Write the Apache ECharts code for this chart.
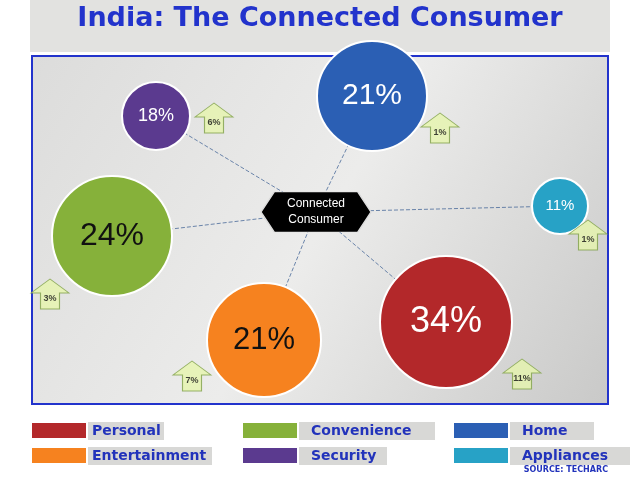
<!DOCTYPE html>
<html>
<head>
<meta charset="utf-8">
<script src="https://cdn.jsdelivr.net/npm/echarts@6/dist/echarts.min.js"></script>
<style>html,body{margin:0;padding:0;background:#fff}#main{width:640px;height:480px}</style>
</head>
<body>
<div id="main"></div>
<script>
// segments
var segNames = ['Security', 'Home', 'Appliances', 'Convenience', 'Entertainment', 'Personal'];
var segShare = [18, 21, 11, 24, 21, 34];
var segGrowth = [6, 1, 1, 3, 7, 11];
var segColors = ['#5b3a8f', '#2b5fb4', '#27a2c6', '#86b13a', '#f6821f', '#b3282a'];
// layout (picture coordinates)
var segX = [156, 372, 560, 112, 264, 446];
var segY = [116, 96, 206, 236, 340, 322];
var segSize = [68, 110, 56, 120, 114, 132];
var arrowX = [214, 440, 588, 50, 192, 522];
var arrowY = [118, 128, 235, 294, 376, 374];
var centerPos = [316, 212];
var legendRows = [['Personal', 'Convenience', 'Home'], ['Entertainment', 'Security', 'Appliances']];
var legendBoxW = {Personal: 76, Convenience: 128, Home: 76, Entertainment: 124, Security: 80, Appliances: 112};

var chart = echarts.init(document.getElementById('main'));
var nodes = [{
  name: 'Connected\nConsumer', value: centerPos,
  symbol: 'path://M0,20 L12,0 L88,0 L100,20 L88,40 L12,40 Z', symbolSize: [110, 40],
  itemStyle: {color: '#000', borderColor: '#ddd', borderWidth: 1},
  label: {show: true, color: '#fff', fontSize: 12, lineHeight: 16, formatter: '{b}'}
}];
var links = [];
segNames.forEach(function(n, i) {
  nodes.push({
    name: n, value: [segX[i], segY[i]], symbolSize: segSize[i],
    itemStyle: {color: segColors[i], borderColor: '#fff', borderWidth: 2},
    label: {show: true, color: (i === 3 || i === 4) ? '#111' : '#fff',
      fontSize: Math.round(segSize[i] * 0.27), formatter: segShare[i] + '%'}
  });
  links.push({source: 0, target: i + 1});
});
var arrows = segGrowth.map(function(g, i) { return [arrowX[i], arrowY[i], g]; });

var legendGraphics = [];
legendRows.forEach(function(row, r) {
  row.forEach(function(name, c) {
    var col = segColors[segNames.indexOf(name)];
    var x = 32 + c * 211, y = 423 + r * 25;
    legendGraphics.push({type: 'rect', shape: {x: x, y: y, width: 54, height: 15}, style: {fill: col}});
    legendGraphics.push({type: 'rect', shape: {x: x + 56, y: y - 1, width: legendBoxW[name] + (c > 0 ? 8 : 0), height: 18}, style: {fill: '#d8d8d6'}});
    legendGraphics.push({type: 'text', x: x + 60 + (c > 0 ? 8 : 0), y: y + 8, style: {text: name, fill: '#2233bb', font: 'bold 14px DejaVu Sans', verticalAlign: 'middle'}});
  });
});

chart.setOption({
  animation: false,
  grid: {left: 0, right: 0, top: 0, bottom: 0},
  xAxis: {type: 'value', min: 0, max: 640, show: false},
  yAxis: {type: 'value', min: 0, max: 480, inverse: true, show: false},
  graphic: [
    {type: 'rect', shape: {x: 30, y: 0, width: 580, height: 52}, style: {fill: '#e2e2e0'}, z: -10},
    {type: 'text', x: 320, y: 19, style: {text: 'India: The Connected Consumer', fill: '#2233cc', font: 'bold 27px DejaVu Sans', align: 'center', verticalAlign: 'middle'}, z: -9},
    {type: 'rect', shape: {x: 32, y: 56, width: 576, height: 348}, style: {fill: {type: 'linear', x: 0, y: 0, x2: 1, y2: 1, colorStops: [{offset: 0, color: '#dcdcdb'}, {offset: 0.5, color: '#ececeb'}, {offset: 1, color: '#c9c9c8'}]}, stroke: '#2233cc', lineWidth: 2}, z: -10},
    {type: 'text', x: 608, y: 470, style: {text: 'SOURCE: TECHARC', fill: '#2233bb', font: 'bold 8px DejaVu Sans', align: 'right', verticalAlign: 'middle'}}
  ].concat(legendGraphics),
  series: [{
    type: 'graph', coordinateSystem: 'cartesian2d', data: nodes, links: links,
    lineStyle: {color: '#4a6a9a', type: 'dashed', width: 1, opacity: 0.8},
    z: 2
  }, {
    type: 'scatter', data: arrows, z: 3,
    symbol: 'path://M18,0 L36,14 L27,14 L27,30 L9,30 L9,14 L0,14 Z', symbolSize: [38, 30],
    itemStyle: {color: '#e6f5ad', borderColor: '#7fa04a', borderWidth: 1},
    label: {show: true, position: 'inside', offset: [0, 5], fontSize: 9, fontWeight: 'bold', color: '#111', formatter: function(p) { return p.value[2] + '%'; }}
  }]
});
</script>
</body>
</html>
